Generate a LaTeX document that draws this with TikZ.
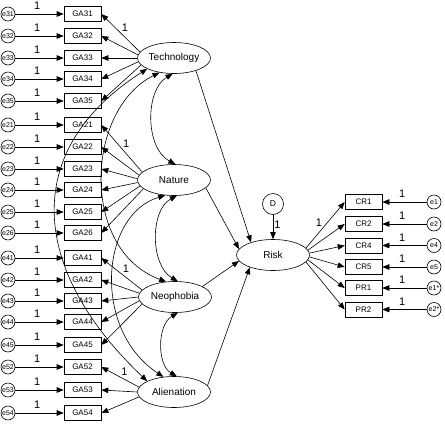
\documentclass[tikz,border=0pt]{standalone}
\usepackage{fontspec}
\setmainfont{Liberation Sans}
\usetikzlibrary{arrows.meta,shapes.geometric}

\tikzset{
  latent/.style={ellipse,draw,minimum width=73pt,minimum height=31pt,inner sep=0pt,font=\fontsize{10}{11}\selectfont},
  item/.style={rectangle,draw,minimum width=37pt,minimum height=15pt,inner sep=0pt,font=\fontsize{8}{9}\selectfont},
  resid/.style={circle,draw,minimum size=14pt,inner sep=0pt,font=\fontsize{7}{8}\selectfont},
  one/.style={font=\fontsize{11}{12}\selectfont,inner sep=1pt}
}

\begin{document}
\begin{tikzpicture}[x=1pt,y=-1pt,line width=0.6pt,>={Triangle[length=7pt,width=5.5pt]}]

        \useasboundingbox (0,0) rectangle (445,424);

        % latent variables
        \begin{scope}[every node/.style={latent}]
          \node (tech)  at (174,58)  {Technology};
          \node (nat)   at (174,180) {Nature};
          \node (neo)   at (175,297) {Neophobia};
          \node (alien) at (174,392) {Alienation};
          \node (risk)  at (273,255) {Risk};
        \end{scope}
        \node[circle,draw,minimum size=21pt,inner sep=0pt,font=\fontsize{8.5}{9}\selectfont] (d) at (273,204) {D};

        % indicators
        \begin{scope}[every node/.style={item}]
          \node (ga31) at (82.5,14)  {GA31};
          \node (ga32) at (82.5,36)  {GA32};
          \node (ga33) at (82.5,58)  {GA33};
          \node (ga34) at (82.5,79)  {GA34};
          \node (ga35) at (82.5,101) {GA35};
          \node (ga21) at (82.5,125) {GA21};
          \node (ga22) at (82.5,147) {GA22};
          \node (ga23) at (82.5,169) {GA23};
          \node (ga24) at (82.5,190) {GA24};
          \node (ga25) at (82.5,212) {GA25};
          \node (ga26) at (82.5,233) {GA26};
          \node (ga41) at (82.5,258) {GA41};
          \node (ga42) at (82.5,280) {GA42};
          \node (ga43) at (82.5,301) {GA43};
          \node (ga44) at (82.5,322) {GA44};
          \node (ga45) at (82.5,345) {GA45};
          \node (ga52) at (82.5,367) {GA52};
          \node (ga53) at (82.5,390) {GA53};
          \node (ga54) at (82.5,413) {GA54};
          \node (cr1)  at (363.5,202)   {CR1};
          \node (cr2)  at (363.5,224)   {CR2};
          \node (cr4)  at (363.5,245.5) {CR4};
          \node (cr5)  at (363.5,267)   {CR5};
          \node (pr1)  at (363.5,288)   {PR1};
          \node (pr2)  at (363.5,309.5) {PR2};
        \end{scope}

        % error terms
        \begin{scope}[every node/.style={resid}]
          \node (e31) at (8,14)  {e31};
          \node (e32) at (8,36)  {e32};
          \node (e33) at (8,58)  {e33};
          \node (e34) at (8,79)  {e34};
          \node (e35) at (8,101) {e35};
          \node (e21) at (8,125) {e21};
          \node (e22) at (8,147) {e22};
          \node (e23) at (8,169) {e23};
          \node (e24) at (8,190) {e24};
          \node (e25) at (8,212) {e25};
          \node (e26) at (8,233) {e26};
          \node (e41) at (8,258) {e41};
          \node (e42) at (8,280) {e42};
          \node (e43) at (8,301) {e43};
          \node (e44) at (8,322) {e44};
          \node (e45) at (8,345) {e45};
          \node (e52) at (8,367) {e52};
          \node (e53) at (8,390) {e53};
          \node (e54) at (8,413) {e54};
          \node (er1)  at (434,202)   {e1};
          \node (er2)  at (434,224)   {e2};
          \node (er4)  at (434,245.5) {e4};
          \node (er5)  at (434,267)   {e5};
          \node (er1s) at (434,288)   {e1*};
          \node (er2s) at (434,309.5) {e2*};
        \end{scope}

        \begin{scope}[every edge/.style={draw,->}, every node/.style={one}]

          % errors to indicators
          \path (e31) edge node[above=3pt,pos=.45] {1} (ga31);
          \path (e32) edge node[above=3pt,pos=.45] {1} (ga32);
          \path (e33) edge node[above=3pt,pos=.45] {1} (ga33);
          \path (e34) edge node[above=3pt,pos=.45] {1} (ga34);
          \path (e35) edge node[above=3pt,pos=.45] {1} (ga35);
          \path (e21) edge node[above=3pt,pos=.45] {1} (ga21);
          \path (e22) edge node[above=3pt,pos=.45] {1} (ga22);
          \path (e23) edge node[above=3pt,pos=.45] {1} (ga23);
          \path (e24) edge node[above=3pt,pos=.45] {1} (ga24);
          \path (e25) edge node[above=3pt,pos=.45] {1} (ga25);
          \path (e26) edge node[above=3pt,pos=.45] {1} (ga26);
          \path (e41) edge node[above=3pt,pos=.45] {1} (ga41);
          \path (e42) edge node[above=3pt,pos=.45] {1} (ga42);
          \path (e43) edge node[above=3pt,pos=.45] {1} (ga43);
          \path (e44) edge node[above=3pt,pos=.45] {1} (ga44);
          \path (e45) edge node[above=3pt,pos=.45] {1} (ga45);
          \path (e52) edge node[above=3pt,pos=.45] {1} (ga52);
          \path (e53) edge node[above=3pt,pos=.45] {1} (ga53);
          \path (e54) edge node[above=3pt,pos=.45] {1} (ga54);
          \path (er1)  edge node[above=3pt,pos=.55] {1} (cr1);
          \path (er2)  edge node[above=3pt,pos=.55] {1} (cr2);
          \path (er4)  edge node[above=3pt,pos=.55] {1} (cr4);
          \path (er5)  edge node[above=3pt,pos=.55] {1} (cr5);
          \path (er1s) edge node[above=3pt,pos=.55] {1} (pr1);
          \path (er2s) edge node[above=3pt,pos=.55] {1} (pr2);

          % loadings
          \path (tech.170) edge node[above right=0pt] {1} (ga31.east);
          \path (tech.175) edge (ga32.east);
          \path (tech.180) edge (ga33.east);
          \path (tech.186) edge (ga34.east);
          \path (tech.192) edge (ga35.east);
          \path (nat.166) edge node[above right=0pt] {1} (ga21.east);
          \path (nat.172) edge (ga22.east);
          \path (nat.178) edge (ga23.east);
          \path (nat.184) edge (ga24.east);
          \path (nat.190) edge (ga25.east);
          \path (nat.196) edge (ga26.east);
          \path (neo.168) edge node[above right=0pt] {1} (ga41.east);
          \path (neo.174) edge (ga42.east);
          \path (neo.180) edge (ga43.east);
          \path (neo.186) edge (ga44.east);
          \path (neo.192) edge (ga45.east);
          \path (alien.172) edge node[above right=0pt] {1} (ga52.east);
          \path (alien.180) edge (ga53.east);
          \path (alien.188) edge (ga54.east);
          \path (risk.12)  edge node[above left=0pt,pos=.45] {1} (cr1.west);
          \path (risk.8)   edge (cr2.west);
          \path (risk.3)   edge (cr4.west);
          \path (risk.-3)  edge (cr5.west);
          \path (risk.-8)  edge (pr1.west);
          \path (risk.-12) edge (pr2.west);

          % paths to risk
          \path (tech.-30)  edge (risk.150);
          \path (nat.-14)   edge (risk.170);
          \path (neo.21)    edge (risk.190);
          \path (alien.11)  edge (risk.208);
          \path (d) edge node[right=0pt,pos=.4] {1} (risk);
        \end{scope}

        % covariances
        \draw[<->] (tech.-95) .. controls (145,90) and (145,148) .. (nat.85);
        \draw[<->] (nat.-80) .. controls (150,210) and (150,265) .. (neo.80);
        \draw[<->] (neo.-80) .. controls (157,325) and (157,365) .. (alien.80);
        \draw[<->] (tech.-135) .. controls (85,110) and (80,250) .. (neo.120);
        \draw[<->] (nat.-120) .. controls (100,215) and (92,330) .. (alien.125);
        \draw[<->] (tech.-158) .. controls (20,150) and (30,270) .. (alien.158);

      \end{tikzpicture}
\end{document}
